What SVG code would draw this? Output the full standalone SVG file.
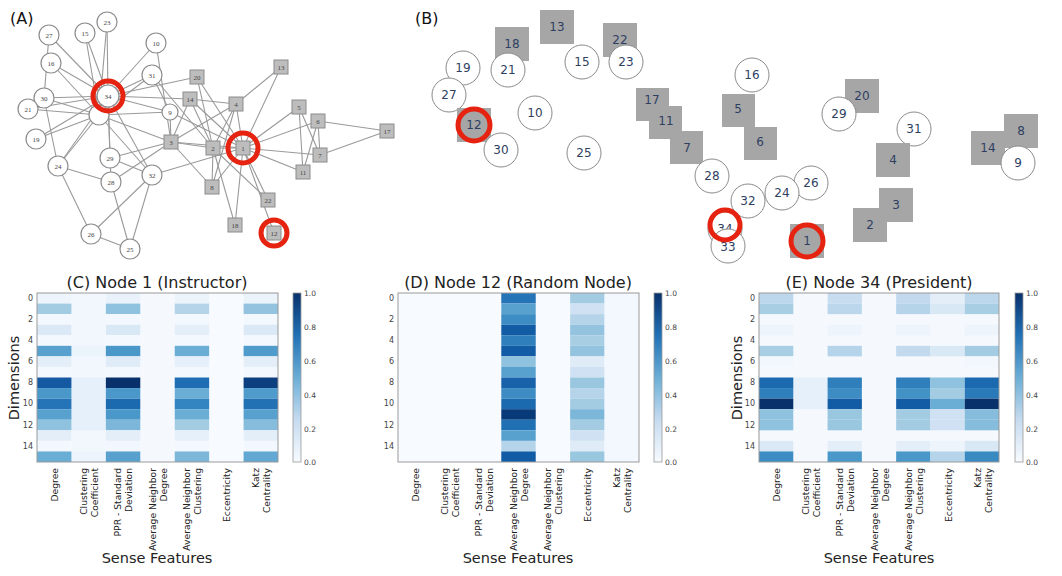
<svg xmlns="http://www.w3.org/2000/svg" width="1062" height="576" viewBox="0 0 1062 576">
<style>
text{font-family:"DejaVu Sans","Liberation Sans",sans-serif}
.e line{stroke:#9a9a9a;stroke-width:1.1}
.an circle{fill:#fff;stroke:#8c8c8c;stroke-width:1.2}
.an rect{fill:#bdbdbd;stroke:#8c8c8c;stroke-width:1}
.an text{font-family:"Liberation Serif",serif;font-size:7px;fill:#444;text-anchor:middle}
.red{fill:none;stroke:#e62310;stroke-width:5}
.bn circle{fill:#fff;stroke:#8a8a8a;stroke-width:1}
.bn rect{fill:#a6a6a6}
.bn text{font-size:12px;fill:#2e3f62;text-anchor:middle}
.tk{font-size:8px;fill:#444;text-anchor:end}
.cb{font-size:7.5px;fill:#444}
.xl{font-size:9.2px;fill:#222;text-anchor:end}
.ttl{font-size:16px;fill:#222;text-anchor:middle}
.ax{font-size:14.5px;fill:#222;text-anchor:middle}
.frame{fill:none;stroke:#999;stroke-width:1}
</style>
<defs>
<linearGradient id="blues" x1="0" y1="1" x2="0" y2="0">
<stop offset="0" stop-color="#f7fbff"/><stop offset="0.25" stop-color="#c6dbef"/><stop offset="0.5" stop-color="#6baed6"/><stop offset="0.75" stop-color="#2171b5"/><stop offset="1" stop-color="#08306b"/>
</linearGradient>
</defs>
<rect width="1062" height="576" fill="#fff"/>
<text x="10" y="24" font-size="16" fill="#111">(A)</text>
<text x="415" y="24" font-size="16" fill="#111">(B)</text>

<g id="connectors" class="e">
<line x1="243" y1="148" x2="213" y2="148"/><line x1="243" y1="148" x2="171" y2="142"/><line x1="243" y1="148" x2="236" y2="104"/><line x1="243" y1="148" x2="299" y2="107"/><line x1="243" y1="148" x2="318" y2="121"/><line x1="243" y1="148" x2="320" y2="155"/><line x1="243" y1="148" x2="212" y2="187"/><line x1="243" y1="148" x2="170" y2="112"/><line x1="243" y1="148" x2="303" y2="172"/><line x1="243" y1="148" x2="274" y2="233"/><line x1="243" y1="148" x2="281" y2="67"/><line x1="243" y1="148" x2="190" y2="99"/><line x1="243" y1="148" x2="235" y2="225"/><line x1="243" y1="148" x2="197" y2="77"/><line x1="243" y1="148" x2="268" y2="200"/><line x1="243" y1="148" x2="152" y2="175"/>
<line x1="213" y1="148" x2="171" y2="142"/><line x1="213" y1="148" x2="236" y2="104"/><line x1="213" y1="148" x2="212" y2="187"/><line x1="213" y1="148" x2="190" y2="99"/><line x1="213" y1="148" x2="235" y2="225"/><line x1="213" y1="148" x2="197" y2="77"/><line x1="213" y1="148" x2="268" y2="200"/><line x1="213" y1="148" x2="152" y2="75"/>
<line x1="171" y1="142" x2="236" y2="104"/><line x1="171" y1="142" x2="212" y2="187"/><line x1="171" y1="142" x2="170" y2="112"/><line x1="171" y1="142" x2="156" y2="43"/><line x1="171" y1="142" x2="190" y2="99"/><line x1="171" y1="142" x2="111" y2="182"/><line x1="171" y1="142" x2="110" y2="158"/><line x1="171" y1="142" x2="99" y2="115"/>
<line x1="236" y1="104" x2="212" y2="187"/><line x1="236" y1="104" x2="281" y2="67"/><line x1="236" y1="104" x2="190" y2="99"/>
<line x1="299" y1="107" x2="320" y2="155"/><line x1="299" y1="107" x2="303" y2="172"/>
<line x1="318" y1="121" x2="320" y2="155"/><line x1="318" y1="121" x2="303" y2="172"/><line x1="318" y1="121" x2="387" y2="131"/><line x1="320" y1="155" x2="387" y2="131"/>
<line x1="170" y1="112" x2="152" y2="75"/><line x1="170" y1="112" x2="99" y2="115"/><line x1="170" y1="112" x2="108" y2="96"/>
<line x1="156" y1="43" x2="108" y2="96"/><line x1="190" y1="99" x2="108" y2="96"/>
<line x1="85" y1="33" x2="99" y2="115"/><line x1="85" y1="33" x2="108" y2="96"/>
<line x1="51" y1="63" x2="99" y2="115"/><line x1="51" y1="63" x2="108" y2="96"/>
<line x1="36" y1="139" x2="99" y2="115"/><line x1="36" y1="139" x2="108" y2="96"/>
<line x1="197" y1="77" x2="108" y2="96"/>
<line x1="28" y1="109" x2="99" y2="115"/><line x1="28" y1="109" x2="108" y2="96"/>
<line x1="107" y1="22" x2="99" y2="115"/><line x1="107" y1="22" x2="108" y2="96"/>
<line x1="58" y1="166" x2="91" y2="234"/><line x1="58" y1="166" x2="111" y2="182"/><line x1="58" y1="166" x2="44" y2="98"/><line x1="58" y1="166" x2="99" y2="115"/><line x1="58" y1="166" x2="108" y2="96"/>
<line x1="130" y1="249" x2="91" y2="234"/><line x1="130" y1="249" x2="111" y2="182"/><line x1="130" y1="249" x2="152" y2="175"/><line x1="91" y1="234" x2="152" y2="175"/>
<line x1="49" y1="35" x2="44" y2="98"/><line x1="49" y1="35" x2="108" y2="96"/>
<line x1="111" y1="182" x2="108" y2="96"/><line x1="110" y1="158" x2="152" y2="175"/><line x1="110" y1="158" x2="108" y2="96"/>
<line x1="44" y1="98" x2="99" y2="115"/><line x1="44" y1="98" x2="108" y2="96"/>
<line x1="152" y1="75" x2="99" y2="115"/><line x1="152" y1="75" x2="108" y2="96"/>
<line x1="152" y1="175" x2="99" y2="115"/><line x1="152" y1="175" x2="108" y2="96"/><line x1="99" y1="115" x2="108" y2="96"/>
</g>

<g class="an">
<g id="a33"><circle cx="99" cy="115" r="10"/></g>
<g id="a27"><circle cx="49" cy="35" r="10"/><text x="49" y="38">27</text></g>
<g id="a15"><circle cx="85" cy="33" r="10"/><text x="85" y="36">15</text></g>
<g id="a23"><circle cx="107" cy="22" r="10"/><text x="107" y="25">23</text></g>
<g id="a10"><circle cx="156" cy="43" r="10"/><text x="156" y="46">10</text></g>
<g id="a16"><circle cx="51" cy="63" r="10"/><text x="51" y="66">16</text></g>
<g id="a31"><circle cx="152" cy="75" r="10"/><text x="152" y="78">31</text></g>
<g id="a30"><circle cx="44" cy="98" r="10"/><text x="44" y="101">30</text></g>
<g id="a21"><circle cx="28" cy="109" r="10"/><text x="28" y="112">21</text></g>
<g id="a9"><circle cx="170" cy="112" r="8"/><text x="170" y="115">9</text></g>
<g id="a19"><circle cx="36" cy="139" r="10"/><text x="36" y="142">19</text></g>
<g id="a29"><circle cx="110" cy="158" r="10"/><text x="110" y="161">29</text></g>
<g id="a24"><circle cx="58" cy="166" r="10"/><text x="58" y="169">24</text></g>
<g id="a28"><circle cx="111" cy="182" r="10"/><text x="111" y="185">28</text></g>
<g id="a32"><circle cx="152" cy="175" r="10"/><text x="152" y="178">32</text></g>
<g id="a26"><circle cx="91" cy="234" r="10"/><text x="91" y="237">26</text></g>
<g id="a25"><circle cx="130" cy="249" r="10"/><text x="130" y="252">25</text></g>
<g id="a34"><circle cx="108" cy="96" r="11"/><text x="108" y="99">34</text></g>
<g id="a20"><rect x="190" y="70" width="14" height="14"/><text x="197" y="80">20</text></g>
<g id="a13"><rect x="274" y="60" width="14" height="14"/><text x="281" y="70">13</text></g>
<g id="a14"><rect x="183" y="92" width="14" height="14"/><text x="190" y="102">14</text></g>
<g id="a4"><rect x="229" y="97" width="14" height="14"/><text x="236" y="107">4</text></g>
<g id="a5"><rect x="292" y="100" width="14" height="14"/><text x="299" y="110">5</text></g>
<g id="a6"><rect x="311" y="114" width="14" height="14"/><text x="318" y="124">6</text></g>
<g id="a17"><rect x="380" y="124" width="14" height="14"/><text x="387" y="134">17</text></g>
<g id="a3"><rect x="164" y="135" width="14" height="14"/><text x="171" y="145">3</text></g>
<g id="a2"><rect x="206" y="141" width="14" height="14"/><text x="213" y="151">2</text></g>
<g id="a1"><rect x="236" y="141" width="14" height="14"/><text x="243" y="151">1</text></g>
<g id="a7"><rect x="313" y="148" width="14" height="14"/><text x="320" y="158">7</text></g>
<g id="a11"><rect x="296" y="165" width="14" height="14"/><text x="303" y="175">11</text></g>
<g id="a8"><rect x="205" y="180" width="14" height="14"/><text x="212" y="190">8</text></g>
<g id="a22"><rect x="261" y="193" width="14" height="14"/><text x="268" y="203">22</text></g>
<g id="a18"><rect x="228" y="218" width="14" height="14"/><text x="235" y="228">18</text></g>
<g id="a12"><rect x="267" y="226" width="14" height="14"/><text x="274" y="236">12</text></g>
</g>
<circle class="red" cx="108" cy="96" r="15"/>
<circle class="red" cx="243" cy="148" r="15"/>
<circle class="red" cx="274" cy="233" r="13"/>

<g class="bn">
<g id="b18"><rect x="495" y="27" width="34" height="34"/><text x="512" y="48">18</text></g>
<g id="b13"><rect x="540" y="10" width="34" height="34"/><text x="557" y="31">13</text></g>
<g id="b22"><rect x="603" y="23" width="34" height="34"/><text x="620" y="44">22</text></g>
<g id="b19"><circle cx="463" cy="68" r="17"/><text x="463" y="72">19</text></g>
<g id="b21"><circle cx="508" cy="70" r="17"/><text x="508" y="74">21</text></g>
<g id="b15"><circle cx="582" cy="62" r="17"/><text x="582" y="66">15</text></g>
<g id="b23"><circle cx="626" cy="62" r="17"/><text x="626" y="66">23</text></g>
<g id="b16"><circle cx="752" cy="75" r="17"/><text x="752" y="79">16</text></g>
<g id="b27"><circle cx="449" cy="95" r="17"/><text x="449" y="99">27</text></g>
<g id="b7"><rect x="670" y="131" width="33" height="33"/><text x="687" y="152">7</text></g>
<g id="b17"><rect x="636" y="88" width="33" height="33"/><text x="652" y="104">17</text></g>
<g id="b11"><rect x="649" y="106" width="33" height="33"/><text x="666" y="125">11</text></g>
<g id="b5"><rect x="722" y="94" width="33" height="33"/><text x="738" y="113">5</text></g>
<g id="b6"><rect x="744" y="127" width="33" height="33"/><text x="760" y="146">6</text></g>
<g id="b20"><rect x="845" y="79" width="34" height="34"/><text x="862" y="100">20</text></g>
<g id="b29"><circle cx="839" cy="114" r="17"/><text x="839" y="118">29</text></g>
<g id="b10"><circle cx="535" cy="113" r="17"/><text x="535" y="117">10</text></g>
<g id="b12"><rect x="457" y="108" width="34" height="34"/><text x="474" y="129">12</text></g>
<g id="b31"><circle cx="914" cy="129" r="17"/><text x="914" y="133">31</text></g>
<g id="b14"><rect x="971" y="131" width="34" height="34"/><text x="988" y="152">14</text></g>
<g id="b8"><rect x="1004" y="114" width="34" height="34"/><text x="1021" y="135">8</text></g>
<g id="b9"><circle cx="1018" cy="163" r="17"/><text x="1018" y="167">9</text></g>
<g id="b30"><circle cx="501" cy="150" r="17"/><text x="501" y="154">30</text></g>
<g id="b25"><circle cx="584" cy="153" r="17"/><text x="584" y="157">25</text></g>
<g id="b4"><rect x="876" y="143" width="34" height="34"/><text x="893" y="164">4</text></g>
<g id="b28"><circle cx="712" cy="176" r="17"/><text x="712" y="180">28</text></g>
<g id="b26"><circle cx="811" cy="183" r="17"/><text x="811" y="187">26</text></g>
<g id="b24"><circle cx="782" cy="193" r="17"/><text x="782" y="197">24</text></g>
<g id="b32"><circle cx="748" cy="201" r="17"/><text x="748" y="205">32</text></g>
<g id="b3"><rect x="879" y="188" width="34" height="34"/><text x="896" y="209">3</text></g>
<g id="b2"><rect x="853" y="208" width="34" height="34"/><text x="870" y="229">2</text></g>
<g id="b34"><circle cx="725" cy="229" r="17"/><text x="725" y="233">34</text></g>
<g id="b33"><circle cx="728" cy="246" r="17" fill="none"/><text x="728" y="251">33</text></g>
<g id="b1"><rect x="790" y="224" width="34" height="34"/><text x="807" y="245">1</text></g>
</g>
<circle class="red" cx="474" cy="125" r="16"/>
<circle class="red" cx="725" cy="225" r="15"/>
<circle class="red" cx="807" cy="241" r="16"/>

<!-- Heatmap C -->
<g id="heatC" transform="translate(37,293) scale(34.43,10.5625)">
<rect x="1" y="0" width="1" height="16" fill="#f2f7fd"/><rect x="3" y="0" width="1" height="16" fill="#f5f9fe"/><rect x="5" y="0" width="1" height="16" fill="#f7fbff"/>
<rect x="1" y="8" width="1" height="5" fill="#e6f0fa"/><rect x="1" y="5" width="1" height="1" fill="#ebf3fb"/><rect x="1" y="15" width="1" height="1" fill="#edf4fc"/>
<g>
<rect x="0" y="0" width="1" height="1" fill="#edf4fc"/><rect x="0" y="1" width="1" height="1" fill="#a3cce3"/><rect x="0" y="2" width="1" height="1" fill="#f3f8fe"/><rect x="0" y="3" width="1" height="1" fill="#dbe9f6"/><rect x="0" y="4" width="1" height="1" fill="#f3f8fe"/><rect x="0" y="5" width="1" height="1" fill="#58a1cf"/><rect x="0" y="6" width="1" height="1" fill="#e3eef9"/><rect x="0" y="7" width="1" height="1" fill="#f3f8fe"/><rect x="0" y="8" width="1" height="1" fill="#1459a2"/><rect x="0" y="9" width="1" height="1" fill="#4a98c9"/><rect x="0" y="10" width="1" height="1" fill="#2474b7"/><rect x="0" y="11" width="1" height="1" fill="#58a1cf"/><rect x="0" y="12" width="1" height="1" fill="#8fc2de"/><rect x="0" y="13" width="1" height="1" fill="#e3eef9"/><rect x="0" y="14" width="1" height="1" fill="#f3f8fe"/><rect x="0" y="15" width="1" height="1" fill="#6aaed6"/>
<rect x="2" y="0" width="1" height="1" fill="#e9f2fb"/><rect x="2" y="1" width="1" height="1" fill="#8fc2de"/><rect x="2" y="2" width="1" height="1" fill="#f3f8fe"/><rect x="2" y="3" width="1" height="1" fill="#d9e8f5"/><rect x="2" y="4" width="1" height="1" fill="#f3f8fe"/><rect x="2" y="5" width="1" height="1" fill="#4a98c9"/><rect x="2" y="6" width="1" height="1" fill="#dfebf7"/><rect x="2" y="7" width="1" height="1" fill="#f3f8fe"/><rect x="2" y="8" width="1" height="1" fill="#08306b"/><rect x="2" y="9" width="1" height="1" fill="#4a98c9"/><rect x="2" y="10" width="1" height="1" fill="#1b69af"/><rect x="2" y="11" width="1" height="1" fill="#4a98c9"/><rect x="2" y="12" width="1" height="1" fill="#7cb7da"/><rect x="2" y="13" width="1" height="1" fill="#e3eef9"/><rect x="2" y="14" width="1" height="1" fill="#f1f7fd"/><rect x="2" y="15" width="1" height="1" fill="#58a1cf"/>
<rect x="4" y="0" width="1" height="1" fill="#ebf3fb"/><rect x="4" y="1" width="1" height="1" fill="#b5d4e9"/><rect x="4" y="2" width="1" height="1" fill="#f3f8fe"/><rect x="4" y="3" width="1" height="1" fill="#e3eef9"/><rect x="4" y="4" width="1" height="1" fill="#f3f8fe"/><rect x="4" y="5" width="1" height="1" fill="#6aaed6"/><rect x="4" y="6" width="1" height="1" fill="#e6f0fa"/><rect x="4" y="7" width="1" height="1" fill="#f3f8fe"/><rect x="4" y="8" width="1" height="1" fill="#1f6eb3"/><rect x="4" y="9" width="1" height="1" fill="#6aaed6"/><rect x="4" y="10" width="1" height="1" fill="#3385c2"/><rect x="4" y="11" width="1" height="1" fill="#6aaed6"/><rect x="4" y="12" width="1" height="1" fill="#a3cce3"/><rect x="4" y="13" width="1" height="1" fill="#e6f0fa"/><rect x="4" y="14" width="1" height="1" fill="#f3f8fe"/><rect x="4" y="15" width="1" height="1" fill="#7cb7da"/>
<rect x="6" y="0" width="1" height="1" fill="#ebf3fb"/><rect x="6" y="1" width="1" height="1" fill="#93c3df"/><rect x="6" y="2" width="1" height="1" fill="#f3f8fe"/><rect x="6" y="3" width="1" height="1" fill="#dbe9f6"/><rect x="6" y="4" width="1" height="1" fill="#f3f8fe"/><rect x="6" y="5" width="1" height="1" fill="#4f9bcb"/><rect x="6" y="6" width="1" height="1" fill="#e3eef9"/><rect x="6" y="7" width="1" height="1" fill="#f3f8fe"/><rect x="6" y="8" width="1" height="1" fill="#0c3f80"/><rect x="6" y="9" width="1" height="1" fill="#4f9bcb"/><rect x="6" y="10" width="1" height="1" fill="#2271b5"/><rect x="6" y="11" width="1" height="1" fill="#58a1cf"/><rect x="6" y="12" width="1" height="1" fill="#86bcdc"/><rect x="6" y="13" width="1" height="1" fill="#e3eef9"/><rect x="6" y="14" width="1" height="1" fill="#f3f8fe"/><rect x="6" y="15" width="1" height="1" fill="#63a8d3"/>
</g>
</g>
<rect class="frame" x="37" y="293" width="241" height="169"/>

<!-- Heatmap D -->
<g id="heatD" transform="translate(398,293) scale(34.43,10.5625)">
<rect x="0" y="0" width="7" height="16" fill="#f7fbff"/>
<rect x="3" y="0" width="1" height="1" fill="#2474b7"/><rect x="3" y="1" width="1" height="1" fill="#58a1cf"/><rect x="3" y="2" width="1" height="1" fill="#3d8dc4"/><rect x="3" y="3" width="1" height="1" fill="#115ca5"/><rect x="3" y="4" width="1" height="1" fill="#2f7fbc"/><rect x="3" y="5" width="1" height="1" fill="#115ca5"/><rect x="3" y="6" width="1" height="1" fill="#8fc2de"/><rect x="3" y="7" width="1" height="1" fill="#58a1cf"/><rect x="3" y="8" width="1" height="1" fill="#1862aa"/><rect x="3" y="9" width="1" height="1" fill="#3d8dc4"/><rect x="3" y="10" width="1" height="1" fill="#1b69af"/><rect x="3" y="11" width="1" height="1" fill="#083a7a"/><rect x="3" y="12" width="1" height="1" fill="#2070b4"/><rect x="3" y="13" width="1" height="1" fill="#58a1cf"/><rect x="3" y="14" width="1" height="1" fill="#b5d4e9"/><rect x="3" y="15" width="1" height="1" fill="#115ca5"/>
<rect x="5" y="0" width="1" height="1" fill="#a3cce3"/><rect x="5" y="1" width="1" height="1" fill="#cfe1f2"/><rect x="5" y="2" width="1" height="1" fill="#b5d4e9"/><rect x="5" y="3" width="1" height="1" fill="#93c3df"/><rect x="5" y="4" width="1" height="1" fill="#a8cee4"/><rect x="5" y="5" width="1" height="1" fill="#93c3df"/><rect x="5" y="6" width="1" height="1" fill="#dfebf7"/><rect x="5" y="7" width="1" height="1" fill="#cfe1f2"/><rect x="5" y="8" width="1" height="1" fill="#99c7e0"/><rect x="5" y="9" width="1" height="1" fill="#b5d4e9"/><rect x="5" y="10" width="1" height="1" fill="#a3cce3"/><rect x="5" y="11" width="1" height="1" fill="#7cb7da"/><rect x="5" y="12" width="1" height="1" fill="#a3cce3"/><rect x="5" y="13" width="1" height="1" fill="#cfe1f2"/><rect x="5" y="14" width="1" height="1" fill="#dfebf7"/><rect x="5" y="15" width="1" height="1" fill="#99c7e0"/>
<rect x="6" y="0" width="1" height="16" fill="#f3f8fe"/>
</g>
<rect class="frame" x="398" y="293" width="241" height="169"/>

<!-- Heatmap E -->
<g id="heatE" transform="translate(759,293) scale(34.29,10.5625)">
<rect x="0" y="0" width="7" height="16" fill="#f5f9fe"/>
<rect x="1" y="8" width="1" height="3" fill="#e6f0fa"/>
<rect x="0" y="0" width="1" height="1" fill="#bcd7eb"/><rect x="0" y="1" width="1" height="1" fill="#a8cee4"/><rect x="0" y="3" width="1" height="1" fill="#edf4fc"/><rect x="0" y="5" width="1" height="1" fill="#a8cee4"/><rect x="0" y="6" width="1" height="1" fill="#f1f7fd"/><rect x="0" y="8" width="1" height="1" fill="#1b69af"/><rect x="0" y="9" width="1" height="1" fill="#2f7fbc"/><rect x="0" y="10" width="1" height="1" fill="#08306b"/><rect x="0" y="11" width="1" height="1" fill="#8fc2de"/><rect x="0" y="12" width="1" height="1" fill="#8fc2de"/><rect x="0" y="14" width="1" height="1" fill="#dbe9f6"/><rect x="0" y="15" width="1" height="1" fill="#3d8dc4"/>
<rect x="2" y="0" width="1" height="1" fill="#c9ddf0"/><rect x="2" y="1" width="1" height="1" fill="#bcd7eb"/><rect x="2" y="3" width="1" height="1" fill="#edf4fc"/><rect x="2" y="5" width="1" height="1" fill="#b5d4e9"/><rect x="2" y="8" width="1" height="1" fill="#2f7fbc"/><rect x="2" y="9" width="1" height="1" fill="#3d8dc4"/><rect x="2" y="10" width="1" height="1" fill="#115ca5"/><rect x="2" y="11" width="1" height="1" fill="#99c7e0"/><rect x="2" y="12" width="1" height="1" fill="#99c7e0"/><rect x="2" y="14" width="1" height="1" fill="#e3eef9"/><rect x="2" y="15" width="1" height="1" fill="#4a98c9"/>
<rect x="4" y="0" width="1" height="1" fill="#c2d9ee"/><rect x="4" y="1" width="1" height="1" fill="#b5d4e9"/><rect x="4" y="3" width="1" height="1" fill="#edf4fc"/><rect x="4" y="5" width="1" height="1" fill="#c2d9ee"/><rect x="4" y="8" width="1" height="1" fill="#2f7fbc"/><rect x="4" y="9" width="1" height="1" fill="#4292c6"/><rect x="4" y="10" width="1" height="1" fill="#115ca5"/><rect x="4" y="11" width="1" height="1" fill="#a3cce3"/><rect x="4" y="12" width="1" height="1" fill="#a3cce3"/><rect x="4" y="14" width="1" height="1" fill="#e3eef9"/><rect x="4" y="15" width="1" height="1" fill="#4a98c9"/>
<rect x="5" y="0" width="1" height="1" fill="#e3eef9"/><rect x="5" y="1" width="1" height="1" fill="#d9e8f5"/><rect x="5" y="5" width="1" height="1" fill="#d9e8f5"/><rect x="5" y="8" width="1" height="1" fill="#8fc2de"/><rect x="5" y="9" width="1" height="1" fill="#a3cce3"/><rect x="5" y="10" width="1" height="1" fill="#6aaed6"/><rect x="5" y="11" width="1" height="1" fill="#cfe1f2"/><rect x="5" y="12" width="1" height="1" fill="#cfe1f2"/><rect x="5" y="14" width="1" height="1" fill="#edf4fc"/><rect x="5" y="15" width="1" height="1" fill="#b5d4e9"/>
<rect x="6" y="0" width="1" height="1" fill="#bcd7eb"/><rect x="6" y="1" width="1" height="1" fill="#a8cee4"/><rect x="6" y="3" width="1" height="1" fill="#edf4fc"/><rect x="6" y="5" width="1" height="1" fill="#a3cce3"/><rect x="6" y="6" width="1" height="1" fill="#f1f7fd"/><rect x="6" y="8" width="1" height="1" fill="#1b69af"/><rect x="6" y="9" width="1" height="1" fill="#2a7ab9"/><rect x="6" y="10" width="1" height="1" fill="#08306b"/><rect x="6" y="11" width="1" height="1" fill="#86bcdc"/><rect x="6" y="12" width="1" height="1" fill="#86bcdc"/><rect x="6" y="14" width="1" height="1" fill="#d9e8f5"/><rect x="6" y="15" width="1" height="1" fill="#3a8ac2"/>
</g>
<rect class="frame" x="759" y="293" width="240" height="169"/>

<!-- colorbars -->
<g id="cbars">
<rect x="293" y="293" width="8" height="169" fill="url(#blues)" stroke="#999" stroke-width="0.8"/>
<rect x="654" y="293" width="8" height="169" fill="url(#blues)" stroke="#999" stroke-width="0.8"/>
<rect x="1015" y="293" width="8" height="169" fill="url(#blues)" stroke="#999" stroke-width="0.8"/>
<g class="cb">
<text x="304" y="296">1.0</text><text x="304" y="330">0.8</text><text x="304" y="364">0.6</text><text x="304" y="398">0.4</text><text x="304" y="432">0.2</text><text x="304" y="465">0.0</text>
<text x="665" y="296">1.0</text><text x="665" y="330">0.8</text><text x="665" y="364">0.6</text><text x="665" y="398">0.4</text><text x="665" y="432">0.2</text><text x="665" y="465">0.0</text>
<text x="1026" y="296">1.0</text><text x="1026" y="330">0.8</text><text x="1026" y="364">0.6</text><text x="1026" y="398">0.4</text><text x="1026" y="432">0.2</text><text x="1026" y="465">0.0</text>
</g>
</g>

<!-- y ticks -->
<g class="tk">
<text x="33" y="301">0</text><text x="33" y="322">2</text><text x="33" y="343">4</text><text x="33" y="364">6</text><text x="33" y="385">8</text><text x="33" y="406">10</text><text x="33" y="428">12</text><text x="33" y="449">14</text>
<text x="394" y="301">0</text><text x="394" y="322">2</text><text x="394" y="343">4</text><text x="394" y="364">6</text><text x="394" y="385">8</text><text x="394" y="406">10</text><text x="394" y="428">12</text><text x="394" y="449">14</text>
<text x="755" y="301">0</text><text x="755" y="322">2</text><text x="755" y="343">4</text><text x="755" y="364">6</text><text x="755" y="385">8</text><text x="755" y="406">10</text><text x="755" y="428">12</text><text x="755" y="449">14</text>
</g>

<text class="ttl" x="157" y="288">(C) Node 1 (Instructor)</text>
<text class="ttl" x="518" y="288">(D) Node 12 (Random Node)</text>
<text class="ttl" x="879" y="288">(E) Node 34 (President)</text>
<text class="ax" transform="translate(19,378) rotate(-90)">Dimensions</text>
<text class="ax" transform="translate(742,378) rotate(-90)">Dimensions</text>
<text class="ax" x="157" y="563">Sense Features</text>
<text class="ax" x="518" y="563">Sense Features</text>
<text class="ax" x="879" y="563">Sense Features</text>

<g class="xl">
<g id="xlC">
<text transform="translate(58,468) rotate(-90)">Degree</text>
<text transform="translate(87,468) rotate(-90)">Clustering</text><text transform="translate(98,468) rotate(-90)">Coefficient</text>
<text transform="translate(121,468) rotate(-90)">PPR - Standard</text><text transform="translate(132,468) rotate(-90)">Deviation</text>
<text transform="translate(156,468) rotate(-90)">Average Neighbor</text><text transform="translate(167,468) rotate(-90)">Degree</text>
<text transform="translate(190,468) rotate(-90)">Average Neighbor</text><text transform="translate(201,468) rotate(-90)">Clustering</text>
<text transform="translate(230,468) rotate(-90)">Eccentricity</text>
<text transform="translate(259,468) rotate(-90)">Katz</text><text transform="translate(270,468) rotate(-90)">Centrality</text>
</g>
<g transform="translate(361,0)">
<text transform="translate(58,468) rotate(-90)">Degree</text>
<text transform="translate(87,468) rotate(-90)">Clustering</text><text transform="translate(98,468) rotate(-90)">Coefficient</text>
<text transform="translate(121,468) rotate(-90)">PPR - Standard</text><text transform="translate(132,468) rotate(-90)">Deviation</text>
<text transform="translate(156,468) rotate(-90)">Average Neighbor</text><text transform="translate(167,468) rotate(-90)">Degree</text>
<text transform="translate(190,468) rotate(-90)">Average Neighbor</text><text transform="translate(201,468) rotate(-90)">Clustering</text>
<text transform="translate(230,468) rotate(-90)">Eccentricity</text>
<text transform="translate(259,468) rotate(-90)">Katz</text><text transform="translate(270,468) rotate(-90)">Centrality</text>
</g>
<g transform="translate(722,0)">
<text transform="translate(58,468) rotate(-90)">Degree</text>
<text transform="translate(87,468) rotate(-90)">Clustering</text><text transform="translate(98,468) rotate(-90)">Coefficient</text>
<text transform="translate(121,468) rotate(-90)">PPR - Standard</text><text transform="translate(132,468) rotate(-90)">Deviation</text>
<text transform="translate(156,468) rotate(-90)">Average Neighbor</text><text transform="translate(167,468) rotate(-90)">Degree</text>
<text transform="translate(190,468) rotate(-90)">Average Neighbor</text><text transform="translate(201,468) rotate(-90)">Clustering</text>
<text transform="translate(230,468) rotate(-90)">Eccentricity</text>
<text transform="translate(259,468) rotate(-90)">Katz</text><text transform="translate(270,468) rotate(-90)">Centrality</text>
</g>
</g>
</svg>
